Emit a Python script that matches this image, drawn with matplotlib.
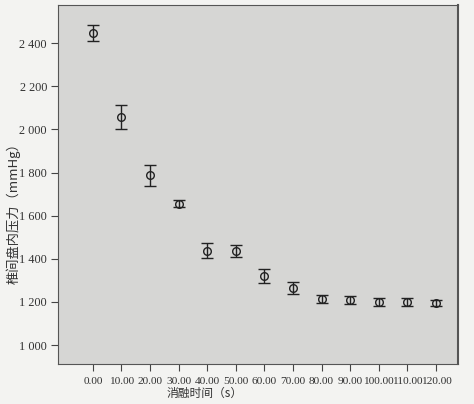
import numpy as np
import matplotlib.pyplot as plt
from matplotlib.ticker import FuncFormatter

# ablation time (s) vs intradiscal pressure (mmHg), mean +/- error
time_s = [0, 10, 20, 30, 40, 50, 60, 70, 80, 90, 100, 110, 120]
pressure = [2447, 2057, 1788, 1656, 1437, 1437, 1321, 1264, 1213, 1208, 1200, 1200, 1195]
err = [35, 55, 49, 18, 35, 28, 33, 26, 18, 18, 18, 18, 15]
yticks = [1000, 1200, 1400, 1600, 1800, 2000, 2200, 2400]

serif = ['Liberation Serif', 'DejaVu Serif']
cjk = ['Noto Sans CJK SC', 'DejaVu Sans']
W, H = 474, 404

fig = plt.figure(figsize=(4.74, 4.04), dpi=100, facecolor='#f3f3f1')
ax = fig.add_axes([58 / W, 1 - 364 / H, 400 / W, 359 / H])
ax.set_facecolor('#d6d6d4')

ax.errorbar(time_s, pressure, yerr=err, fmt='o', mfc='none', mec='#222222',
            ecolor='#222222', ms=5.5, mew=1.0, elinewidth=1.0, capsize=4.5, capthick=1.0)

ax.set_xlim(-12.2, 127.7)
ax.set_ylim(912, 2577)
ax.set_xticks(time_s)
ax.set_xticklabels(['%.2f' % t for t in time_s], fontsize=8.2, family=serif, color='#333333')
ax.set_yticks(yticks)
ax.yaxis.set_major_formatter(FuncFormatter(lambda v, p: '{:,}'.format(int(v)).replace(',', ' ')))
for lab in ax.get_yticklabels():
    lab.set_family(serif)
    lab.set_fontsize(8.8)
    lab.set_color('#333333')

ax.tick_params(direction='out', length=5, width=0.8, color='#444444')
ax.tick_params(axis='x', pad=4)
ax.tick_params(axis='y', pad=3)
for s in ax.spines.values():
    s.set_color('#555555')
    s.set_linewidth(0.8)
ax.spines['right'].set_linewidth(1.5)

fig.text(205 / W, 1 - 393 / H, '消融时间（s）', family=cjk, fontsize=8.5,
         color='#333333', ha='center', va='center')
fig.text(13 / W, 1 - 210 / H, '椎间盘内压力（mmHg）', family=cjk, fontsize=9.5,
         color='#333333', ha='center', va='center', rotation=90)

fig.savefig('out.png', dpi=100, facecolor=fig.get_facecolor())
